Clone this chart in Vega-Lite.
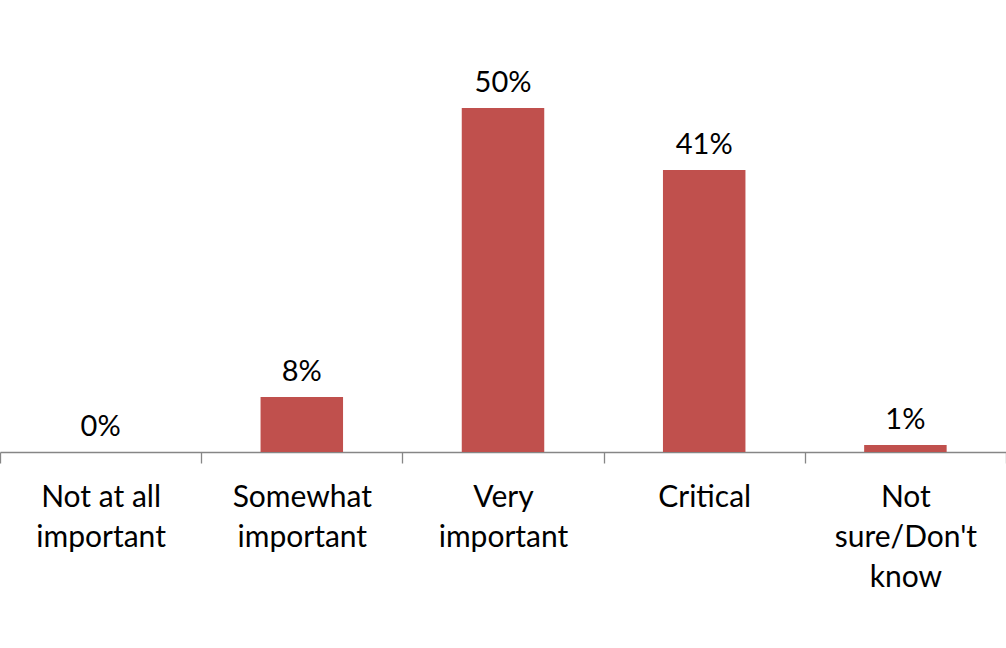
{
  "$schema": "https://vega.github.io/schema/vega-lite/v6.json",
  "width": 1006,
  "height": 452,
  "autosize": "none",
  "padding": {"top": 0, "left": 0, "right": 0, "bottom": 196},
  "background": "white",
  "data": {
    "values": [
      {"answer": "Not at all|important", "share": 0},
      {"answer": "Somewhat|important", "share": 0.08},
      {"answer": "Very|important", "share": 0.5},
      {"answer": "Critical", "share": 0.41},
      {"answer": "Not|sure/Don't|know", "share": 0.01}
    ]
  },
  "config": {
    "view": {"stroke": null},
    "font": "Lato"
  },
  "encoding": {
    "x": {
      "field": "answer", "type": "nominal", "sort": null, "title": null,
      "scale": {"paddingInner": 0, "paddingOuter": 0},
      "axis": {
        "labelExpr": "split(datum.label, '|')",
        "labelAngle": 0,
        "labelFontSize": 30,
        "labelColor": "black",
        "labelLineHeight": 40,
        "labelBaseline": "alphabetic",
        "labelPadding": 43,
        "labelFont": "Lato",
        "domainColor": "#868686",
        "domainWidth": 1.3,
        "tickColor": "#868686",
        "tickWidth": 1.3,
        "tickSize": 11,
        "tickBand": "extent",
        "bandPosition": 0,
        "labelBound": false,
        "labelOverlap": false
      }
    },
    "y": {
      "field": "share", "type": "quantitative",
      "scale": {"domain": [0, 0.657]},
      "axis": null
    }
  },
  "layer": [
    {
      "mark": {"type": "bar", "color": "#C0504D", "width": {"band": 0.41}}
    },
    {
      "mark": {"type": "text", "baseline": "alphabetic", "dy": -16, "fontSize": 29, "font": "Lato", "color": "black"},
      "encoding": {
        "text": {"field": "share", "type": "quantitative", "format": ".0%"}
      }
    }
  ]
}
